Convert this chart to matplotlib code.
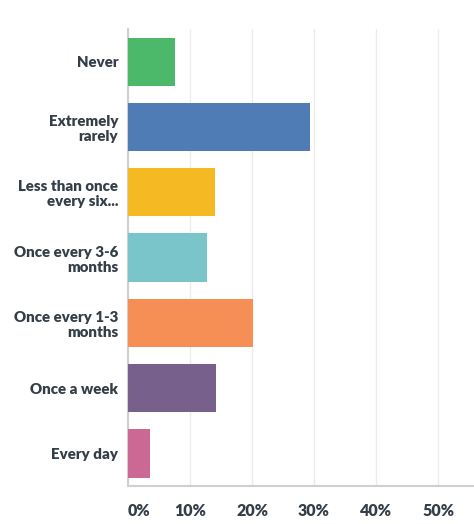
import matplotlib
matplotlib.use("Agg")
import matplotlib.pyplot as plt

categories = ["Never", "Extremely\nrarely", "Less than once\nevery six...",
              "Once every 3-6\nmonths", "Once every 1-3\nmonths", "Once a week", "Every day"]
values = [7.6, 29.4, 14.0, 12.7, 20.2, 14.2, 3.5]
colors = ["#4bb86a", "#507cb6", "#f4b923", "#7ac5c9", "#f68f56", "#78608d", "#cb6894"]
xticks = [0, 10, 20, 30, 40, 50]
xticklabels = ["0%", "10%", "20%", "30%", "40%", "50%"]

plt.rcParams['font.family'] = ['Lato', 'DejaVu Sans']

fig = plt.figure(figsize=(4.74, 5.24), dpi=100)
ax = fig.add_axes([0.270, 0.0725, 0.730, 0.872])

ypos = list(range(len(categories)))
ax.barh(ypos, values, height=0.74, color=colors, zorder=3)
ax.set_ylim(6.5, -0.5)
ax.set_xlim(0, 55.8)

ax.set_yticks(ypos)
ax.set_yticklabels(categories, fontsize=10.8, fontweight='heavy', color='#333e48',
                   linespacing=1.2)
ax.set_xticks(xticks)
labels = ax.set_xticklabels(xticklabels, fontsize=11.5, fontweight='heavy', color='#333e48')
labels[0].set_horizontalalignment('left')
ax.tick_params(axis='y', length=0, pad=7)
ax.tick_params(axis='x', length=0, pad=12)

ax.grid(axis='x', color='#ececec', linewidth=1, zorder=0)
for s in ['top', 'right']:
    ax.spines[s].set_visible(False)
for s in ['left', 'bottom']:
    ax.spines[s].set_color('#d0d0d0')
    ax.spines[s].set_linewidth(1.5)

fig.savefig("out.png", dpi=100, facecolor='white')
